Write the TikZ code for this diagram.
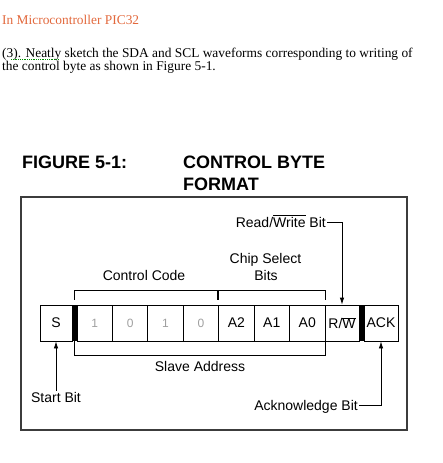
\documentclass[tikz,border=0pt]{standalone}
\usepackage{fontspec}
\setmainfont{Liberation Sans}
\newfontfamily\docfont{Liberation Serif}
\usetikzlibrary{arrows.meta}
\definecolor{titleorange}{RGB}{226,104,60}
\definecolor{framegray}{RGB}{60,60,60}

\begin{document}
\begin{tikzpicture}[x=1pt, y=-1pt,
    cell/.style={draw, rectangle, line width=0.8pt, minimum width=35.4pt, minimum height=36pt, inner sep=0pt, font=\fontsize{14}{16}\selectfont},
    digit/.style={cell, text=gray!75, font=\fontsize{12}{14}\selectfont},
    bar/.style={fill=black, rectangle, minimum width=5pt, minimum height=36pt, inner sep=0pt},
    lbl/.style={inner sep=1pt, font=\fontsize{14}{16}\selectfont, text height=10pt, text depth=0pt},
    doc/.style={inner sep=0pt, anchor=base west, font=\docfont\fontsize{13.4}{13.4}\selectfont},
    head/.style={inner sep=0pt, anchor=base west, font=\bfseries\fontsize{18}{22}\selectfont},
    pointer/.style={-{Latex[length=7pt,width=4.5pt]}, line width=0.8pt}]
    \useasboundingbox (0,0) rectangle (442,463);

    % Question text
    \node[doc, text=titleorange] (course) at (2,24) {In Microcontroller PIC32};
    \node[doc] (task1) at (2,57) {(3). Neatly sketch the SDA and SCL waveforms corresponding to writing of};
    \node[doc] (task2) at (2,70) {the control byte as shown in Figure 5-1.};
    \draw[green!55!black, densely dotted, line width=0.8pt] (11,59.5) -- (59,59.5);

    % Figure title
    \node[head] (fignum) at (22,168) {FIGURE 5-1:};
    \node[head] (figname1) at (183,168) {CONTROL BYTE};
    \node[head] (figname2) at (183,190) {FORMAT};

    % Frame
    \draw[framegray, line width=1.2pt] (21,197) rectangle (407,430);

    % Bit cells
    \node[cell, minimum width=32pt] (s) at (56,323) {S};
    \node[bar] (bar1) at (74.5,323) {};
    \node[digit] (b7) at (94.7,323) {1};
    \node[digit] (b6) at (130.1,323) {0};
    \node[digit] (b5) at (165.5,323) {1};
    \node[digit] (b4) at (201.0,323) {0};
    \node[cell] (a2) at (236.4,323) {A2};
    \node[cell] (a1) at (271.8,323) {A1};
    \node[cell] (a0) at (307.3,323) {A0};
    \node[cell, minimum width=34pt] (rw) at (342,323) {R/$\overline{\hbox{W}}$};
    \node[bar] (bar2) at (361.5,323) {};
    \node[cell, minimum width=34pt] (ack) at (381,323) {ACK};

    % Brackets
    \draw[line width=0.8pt] ([yshift=5pt]bar1.north) -- ([yshift=14pt]bar1.north) -| ([yshift=5pt]a0.north east);
    \draw[line width=2pt] ([yshift=5pt]a2.north west) -- ([yshift=14pt]a2.north west);
    \draw[line width=0.8pt] (bar1.south) -- ([yshift=-14pt]bar1.south) -| (a0.south east);

    % Labels
    \node[lbl] (ctrllbl) at (144,275) {Control Code};
    \node[lbl] (chiplbl) at (265.5,258) {Chip Select};
    \node[lbl] (bitslbl) at (266,275) {Bits};
    \node[lbl] (slavelbl) at (200,366) {Slave Address};
    \node[lbl, anchor=east] (rwlbl) at (327,222) {Read/$\overline{\hbox{Write}}$ Bit};
    \node[lbl] (startlbl) at (56,397) {Start Bit};
    \node[lbl, anchor=east] (acklbl) at (359,405) {Acknowledge Bit};

    % Pointers
    \draw[pointer] (rwlbl.east) -| (rw.north);
    \draw[pointer] (startlbl.north) -- (s.south);
    \draw[pointer] (acklbl.east) -| (ack.south);
\end{tikzpicture}
\end{document}
